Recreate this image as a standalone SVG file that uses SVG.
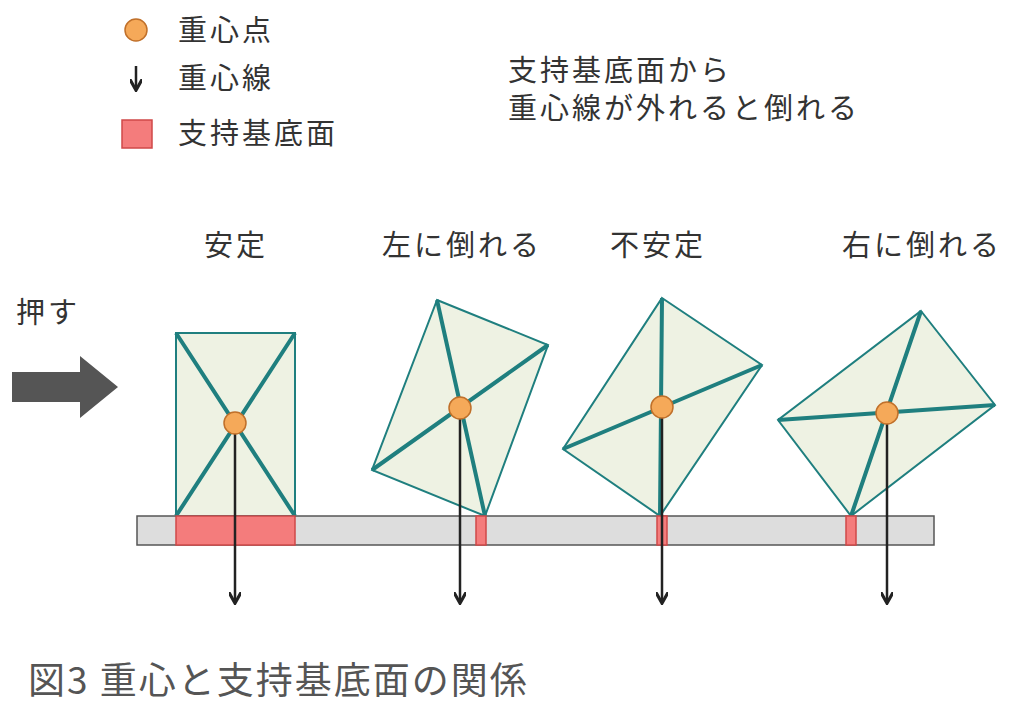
<svg xmlns="http://www.w3.org/2000/svg" width="1023" height="723" viewBox="0 0 1023 723">
<style>
text{font-family:"Noto Sans CJK JP","Noto Sans CJK SC",sans-serif;fill:#333}
.t{font-size:29px;letter-spacing:3px}
.body{fill:#EEF2E3;stroke:#1F7F7F;stroke-width:2}
.diag{stroke:#1F7F7F;stroke-width:4;fill:none}
.cg{fill:#F5A959;stroke:#C0702A;stroke-width:1.5}
.base{fill:#F47C7C;stroke:#D04848;stroke-width:1.5}
.g{stroke:#222;stroke-width:2.5;fill:none}
</style>
<defs>
<marker id="ah" viewBox="0 0 10 10" refX="8" refY="5" markerWidth="5" markerHeight="5" orient="auto"><path d="M0,0 L9,5 L0,10" fill="none" stroke="#222" stroke-width="2.5"/></marker>
</defs>
<rect width="1023" height="723" fill="#fff"/>
<g id="legend">
<circle class="cg" cx="136" cy="30" r="11"/>
<text class="t" x="178" y="41">重心点</text>
<line class="g" x1="136" y1="66" x2="136" y2="89" marker-end="url(#ah)"/>
<text class="t" x="178" y="89">重心線</text>
<rect class="base" x="122" y="120" width="30" height="28"/>
<text class="t" x="178" y="144">支持基底面</text>
</g>
<g id="note">
<text class="t" x="508" y="81">支持基底面から</text>
<text class="t" x="508" y="119">重心線が外れると倒れる</text>
</g>
<g id="labels" class="t" text-anchor="middle">
<text x="236" y="256">安定</text>
<text x="462" y="256">左に倒れる</text>
<text x="658" y="256">不安定</text>
<text x="922" y="256">右に倒れる</text>
</g>
<g id="push">
<text class="t" x="16" y="323">押す</text>
<polygon points="12,372 80,372 80,356 118,387 80,418 80,402 12,402" fill="#555"/>
</g>
<g id="ground">
<rect x="137" y="516" width="797" height="29" fill="#ddd" stroke="#555" stroke-width="1.5"/>
</g>
<g id="box1">
<rect class="body" x="176" y="333" width="119" height="183"/>
<path class="diag" d="M176,333 L295,516 M295,333 L176,516"/>
<rect class="base" x="176" y="516" width="119" height="29"/>
</g>
<g id="box2">
<polygon class="body" points="437,300 548,345 485,516 372,470"/>
<path class="diag" d="M437,300 L485,516 M548,345 L372,470"/>
<rect class="base" x="476" y="516" width="10" height="29"/>
</g>
<g id="box3">
<polygon class="body" points="662,298 762,365 660,516 563,449"/>
<path class="diag" d="M662,298 L660,516 M762,365 L563,449"/>
<rect class="base" x="657" y="516" width="10" height="29"/>
</g>
<g id="box4">
<polygon class="body" points="921,311 995,405 851,516 778,420"/>
<path class="diag" d="M921,311 L851,516 M995,405 L778,420"/>
<rect class="base" x="846" y="516" width="10" height="29"/>
</g>
<g id="connectors">
<line class="g" x1="235" y1="423" x2="235" y2="602" marker-end="url(#ah)"/>
<line class="g" x1="460" y1="408" x2="460" y2="602" marker-end="url(#ah)"/>
<line class="g" x1="662" y1="407" x2="662" y2="602" marker-end="url(#ah)"/>
<line class="g" x1="887" y1="413" x2="887" y2="602" marker-end="url(#ah)"/>
</g>
<g id="cgs">
<circle class="cg" cx="235" cy="423" r="11"/>
<circle class="cg" cx="460" cy="408" r="11"/>
<circle class="cg" cx="662" cy="407" r="11"/>
<circle class="cg" cx="887" cy="413" r="11"/>
</g>
<text x="28" y="694" font-size="37" letter-spacing="2" style="fill:#555">図3 重心と支持基底面の関係</text>
</svg>
